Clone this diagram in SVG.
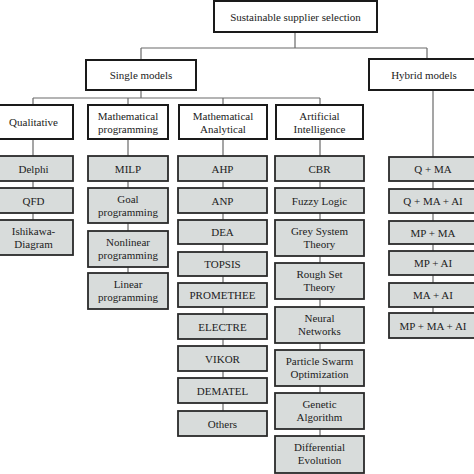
<svg xmlns="http://www.w3.org/2000/svg" width="474" height="474" viewBox="0 0 474 474">
<style>
.hdr{fill:#fff;stroke:#1a1a1a;stroke-width:2}
.leaf{fill:#d8dcdb;stroke:#2a2a2a;stroke-width:1.8}
.t{font-family:"Liberation Serif","Times New Roman",serif;font-size:11px;fill:#222;text-anchor:middle}
.c{stroke:#6a6a6a;stroke-width:1.2;fill:none}
</style>
<rect width="474" height="474" fill="#fff"/>
<g id="connectors">
<path class="c" d="M295,32V48M141,48H427M141,48V60M427,48V59"/>
<path class="c" d="M141,90V98M33,98H320M33,98V105M128,98V105M223,98V105M320,98V105"/>
<path class="c" d="M33,139V220M128,139V273M223,139V411M320,139V436M433,90V313"/>
</g>
<g id="n-root"><rect class="hdr" x="214" y="1" width="163" height="31"/><text class="t" x="295.5" y="20.5">Sustainable supplier selection</text></g>
<g id="n-single"><rect class="hdr" x="86" y="60" width="110" height="30"/><text class="t" x="141" y="79">Single models</text></g>
<g id="n-hybrid"><rect class="hdr" x="369" y="59" width="112" height="31"/><text class="t" x="424" y="78.5">Hybrid models</text></g>
<g id="n-qual"><rect class="hdr" x="-6" y="105" width="79" height="34"/><text class="t" x="33.5" y="126">Qualitative</text></g>
<g id="n-mp"><rect class="hdr" x="88" y="105" width="80" height="34"/><text class="t" x="128"><tspan x="128" y="119.5">Mathematical</tspan><tspan x="128" y="132.5">programming</tspan></text></g>
<g id="n-ma"><rect class="hdr" x="179" y="105" width="88" height="34"/><text class="t"><tspan x="223" y="119.5">Mathematical</tspan><tspan x="223" y="132.5">Analytical</tspan></text></g>
<g id="n-ai"><rect class="hdr" x="276" y="105" width="87" height="34"/><text class="t"><tspan x="319.5" y="119.5">Artificial</tspan><tspan x="319.5" y="132.5">Intelligence</tspan></text></g>

<g id="n-delphi"><rect class="leaf" x="-6" y="156" width="79" height="25"/><text class="t" x="33.5" y="172.5">Delphi</text></g>
<g id="n-qfd"><rect class="leaf" x="-6" y="188" width="79" height="25"/><text class="t" x="33.5" y="204.5">QFD</text></g>
<g id="n-ishikawa"><rect class="leaf" x="-6" y="220" width="79" height="35"/><text class="t"><tspan x="33.5" y="234.5">Ishikawa-</tspan><tspan x="33.5" y="247.5">Diagram</tspan></text></g>

<g id="n-milp"><rect class="leaf" x="88" y="156" width="80" height="25"/><text class="t" x="128" y="172.5">MILP</text></g>
<g id="n-goal"><rect class="leaf" x="88" y="188" width="80" height="35"/><text class="t"><tspan x="128" y="202.5">Goal</tspan><tspan x="128" y="215.5">programming</tspan></text></g>
<g id="n-nonlinear"><rect class="leaf" x="88" y="231" width="80" height="36"/><text class="t"><tspan x="128" y="245.5">Nonlinear</tspan><tspan x="128" y="258.5">programming</tspan></text></g>
<g id="n-linear"><rect class="leaf" x="88" y="273" width="80" height="36"/><text class="t"><tspan x="128" y="287.5">Linear</tspan><tspan x="128" y="300.5">programming</tspan></text></g>

<g id="n-ahp"><rect class="leaf" x="178" y="156" width="89" height="25"/><text class="t" x="222.5" y="172.5">AHP</text></g>
<g id="n-anp"><rect class="leaf" x="178" y="188" width="89" height="25"/><text class="t" x="222.5" y="204.5">ANP</text></g>
<g id="n-dea"><rect class="leaf" x="178" y="220" width="89" height="24"/><text class="t" x="222.5" y="236">DEA</text></g>
<g id="n-topsis"><rect class="leaf" x="178" y="252" width="89" height="24"/><text class="t" x="222.5" y="268">TOPSIS</text></g>
<g id="n-promethee"><rect class="leaf" x="178" y="283" width="89" height="24"/><text class="t" x="222.5" y="299">PROMETHEE</text></g>
<g id="n-electre"><rect class="leaf" x="178" y="314" width="89" height="25"/><text class="t" x="222.5" y="330.5">ELECTRE</text></g>
<g id="n-vikor"><rect class="leaf" x="178" y="346" width="89" height="25"/><text class="t" x="222.5" y="362.5">VIKOR</text></g>
<g id="n-dematel"><rect class="leaf" x="178" y="378" width="89" height="25"/><text class="t" x="222.5" y="394.5">DEMATEL</text></g>
<g id="n-others"><rect class="leaf" x="178" y="411" width="89" height="25"/><text class="t" x="222.5" y="427.5">Others</text></g>

<g id="n-cbr"><rect class="leaf" x="275" y="156" width="89" height="25"/><text class="t" x="319.5" y="172.5">CBR</text></g>
<g id="n-fuzzy"><rect class="leaf" x="275" y="188" width="89" height="25"/><text class="t" x="319.5" y="204.5">Fuzzy Logic</text></g>
<g id="n-grey"><rect class="leaf" x="275" y="220" width="89" height="36"/><text class="t"><tspan x="319.5" y="234.5">Grey System</tspan><tspan x="319.5" y="247.5">Theory</tspan></text></g>
<g id="n-rough"><rect class="leaf" x="275" y="263" width="89" height="36"/><text class="t"><tspan x="319.5" y="277.5">Rough Set</tspan><tspan x="319.5" y="290.5">Theory</tspan></text></g>
<g id="n-neural"><rect class="leaf" x="275" y="307" width="89" height="36"/><text class="t"><tspan x="319.5" y="321.5">Neural</tspan><tspan x="319.5" y="334.5">Networks</tspan></text></g>
<g id="n-pso"><rect class="leaf" x="275" y="350" width="89" height="36"/><text class="t"><tspan x="319.5" y="364.5">Particle Swarm</tspan><tspan x="319.5" y="377.5">Optimization</tspan></text></g>
<g id="n-ga"><rect class="leaf" x="275" y="393" width="89" height="36"/><text class="t"><tspan x="319.5" y="407.5">Genetic</tspan><tspan x="319.5" y="420.5">Algorithm</tspan></text></g>
<g id="n-de"><rect class="leaf" x="275" y="436" width="89" height="37"/><text class="t"><tspan x="319.5" y="450.5">Differential</tspan><tspan x="319.5" y="463.5">Evolution</tspan></text></g>

<g id="n-qma"><rect class="leaf" x="389" y="157" width="90" height="24"/><text class="t" x="433" y="173">Q + MA</text></g>
<g id="n-qmaai"><rect class="leaf" x="389" y="189" width="90" height="24"/><text class="t" x="433" y="205">Q + MA + AI</text></g>
<g id="n-mpma"><rect class="leaf" x="389" y="221" width="90" height="23"/><text class="t" x="433" y="236.5">MP + MA</text></g>
<g id="n-mpai"><rect class="leaf" x="389" y="251" width="90" height="24"/><text class="t" x="433" y="267">MP + AI</text></g>
<g id="n-maai"><rect class="leaf" x="389" y="283" width="90" height="24"/><text class="t" x="433" y="299">MA + AI</text></g>
<g id="n-mpmaai"><rect class="leaf" x="389" y="313" width="90" height="25"/><text class="t" x="433" y="329.5">MP + MA + AI</text></g>
</svg>
